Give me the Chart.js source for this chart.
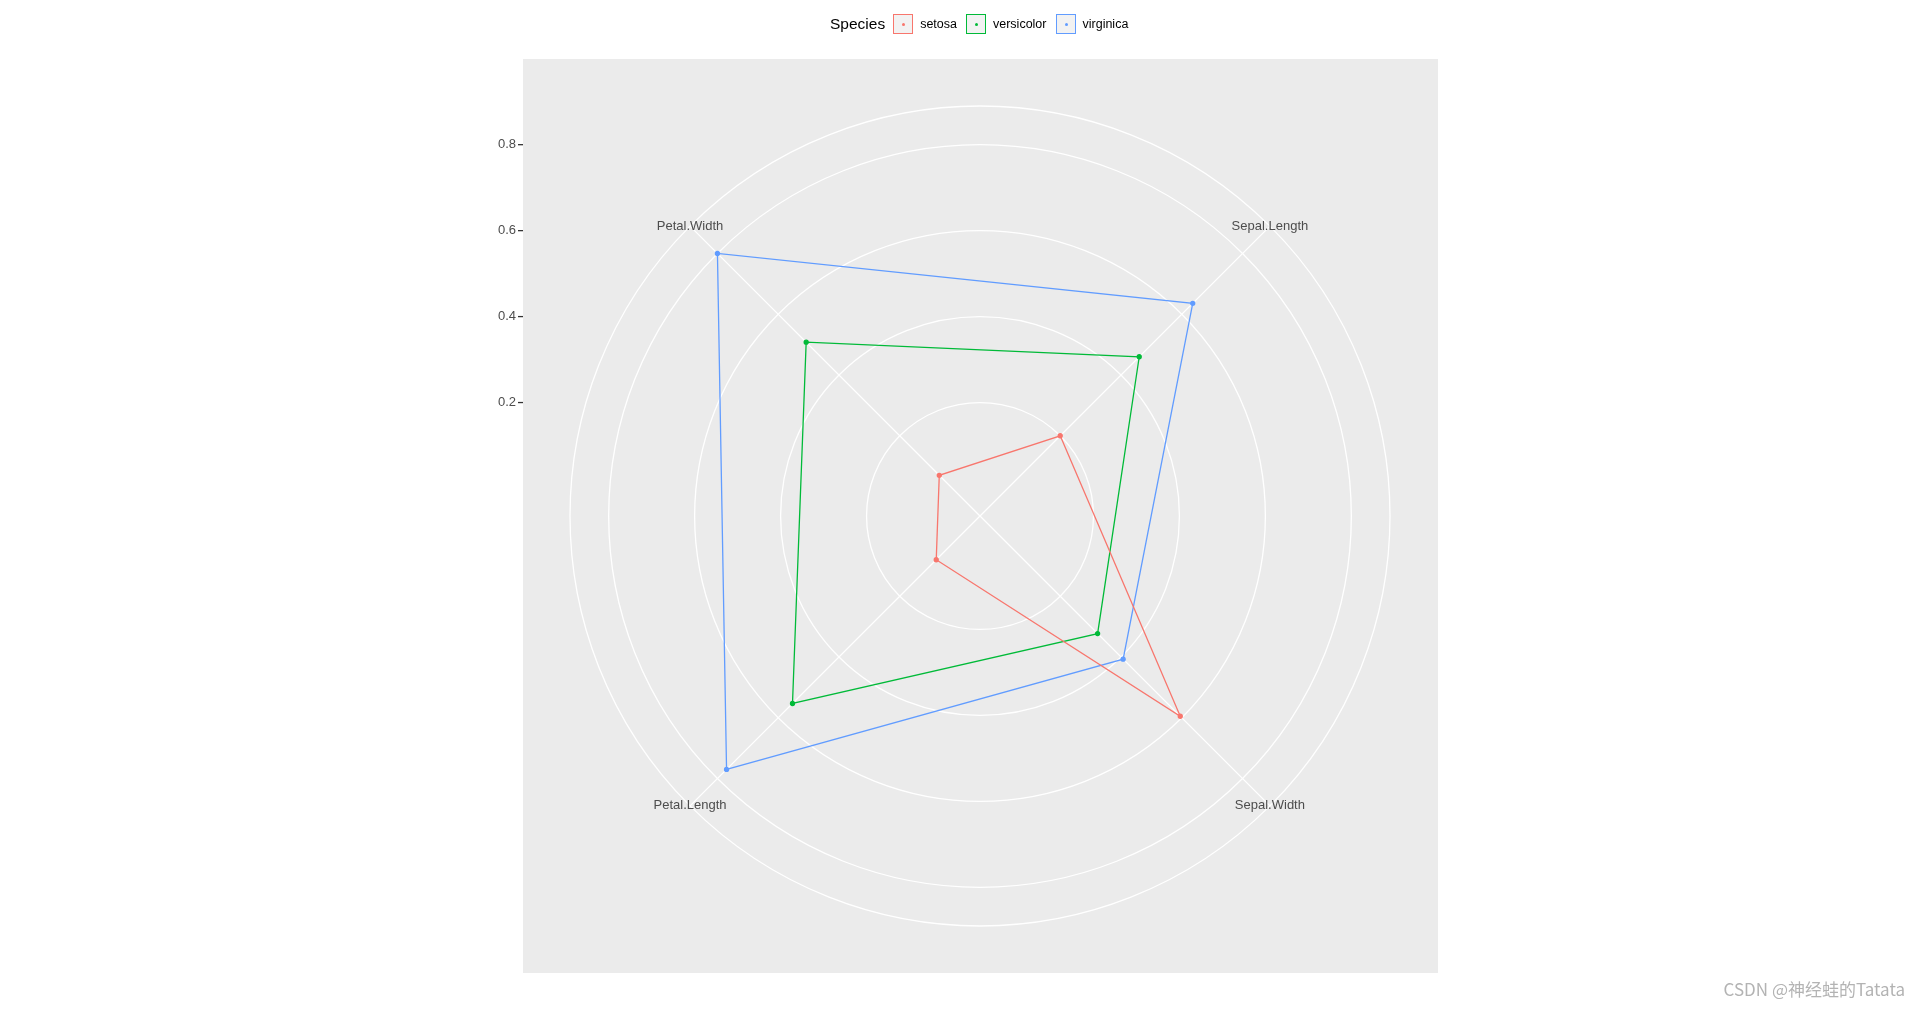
<!DOCTYPE html>
<html>
<head>
<meta charset="utf-8">
<script src="https://cdn.jsdelivr.net/npm/chart.js@4/dist/chart.umd.min.js"></script>
<style>
  body { margin: 0; background: #fff; font-family: Arial, "Liberation Sans", sans-serif; }
  #wrap { position: absolute; left: 0; top: 0; width: 1920px; height: 1009px; }
  .legend { position: absolute; top: 14px; left: 830px; display: flex; align-items: center; font-size: 12.5px; color: #000; }
  .legend .title { font-size: 15.5px; margin-right: 8px; }
  .key { width: 20px; height: 20px; box-sizing: border-box; border: 1px solid; background: #f2f2f2; position: relative; margin-right: 7px; }
  .key span { position: absolute; left: 8px; top: 8px; width: 3px; height: 3px; border-radius: 50%; }
  .item { display: flex; align-items: center; margin-right: 9px; }
  .wm { position: absolute; right: 15px; bottom: 8px; font-size: 17px; color: #b3b3b3; font-family: "Noto Sans CJK SC", sans-serif; }
</style>
</head>
<body>
<div id="wrap"><canvas id="radar"></canvas></div>
<div class="legend" id="legend"><span class="title">Species</span></div>
<div class="wm">CSDN @神经蛙的Tatata</div>
<script>
const sifat = ['Sepal.Length', 'Sepal.Width', 'Petal.Length', 'Petal.Width'];
const spesies = ['setosa', 'versicolor', 'virginica'];
const warna = ['#F8766D', '#00BA38', '#619CFF'];
const setosa = [0.20, 0.595, 0.08, 0.07];
const versicolor = [0.46, 0.323, 0.553, 0.508];
const virginica = [0.636, 0.407, 0.77, 0.80];
const tickLabels = [0.2, 0.4, 0.6, 0.8];
const skalaMin = -0.064;
const skalaMax = 0.89;

const legend = document.getElementById('legend');
spesies.forEach((s, i) => {
    const el = document.createElement('div');
    el.className = 'item';
    el.innerHTML = '<div class="key" style="border-color:' + warna[i] + '"><span style="background:' + warna[i] + '"></span></div>' + s;
    legend.appendChild(el);
});

const panel = {
    id: 'panel',
    beforeDraw(chart) {
        const c = chart.ctx;
        c.save();
        c.fillStyle = '#EBEBEB';
        c.fillRect(523, 59, 915, 914);
        c.restore();
    },
    afterDraw(chart) {
        const c = chart.ctx;
        const r = chart.scales.r;
        c.save();
        c.font = '13px Arial, "Liberation Sans"';
        c.fillStyle = '#4d4d4d';
        c.textAlign = 'center';
        c.textBaseline = 'middle';
        sifat.forEach((s, i) => {
            const p = r.getPointPosition(i, r.drawingArea);
            c.fillText(s, p.x, p.y);
        });
        c.textAlign = 'right';
        c.strokeStyle = '#333';
        tickLabels.forEach(v => {
            const y = r.yCenter - r.getDistanceFromCenterForValue(v);
            c.fillText(v.toFixed(1), 516, y);
            c.beginPath();
            c.moveTo(518, y);
            c.lineTo(523, y);
            c.stroke();
        });
        c.restore();
    }
};

new Chart(document.getElementById('radar'), {
    type: 'radar',
    data: {
        labels: sifat,
        datasets: [setosa, versicolor, virginica].map((d, i) => ({
            label: spesies[i],
            data: d,
            borderColor: warna[i],
            backgroundColor: warna[i],
            borderWidth: 1.3,
            pointRadius: 2,
            fill: false,
        }))
    },
    options: {
        responsive: true,
        maintainAspectRatio: false,
        animation: false,
        layout: { padding: { left: 570, top: 106, right: 529, bottom: 83 } },
        plugins: { legend: { display: false }, tooltip: { enabled: false } },
        scales: {
            r: {
                startAngle: 45,
                min: skalaMin,
                max: skalaMax,
                afterBuildTicks: (s) => {
                    s.ticks = [skalaMin].concat(tickLabels, [skalaMax]).map(v => ({ value: v }));
                },
                ticks: { display: false },
                pointLabels: { display: false },
                grid: { circular: true, color: '#ffffff', lineWidth: 1.3 },
                angleLines: { color: '#ffffff', lineWidth: 1.3 },
            }
        }
    },
    plugins: [panel]
});
</script>
</body>
</html>
